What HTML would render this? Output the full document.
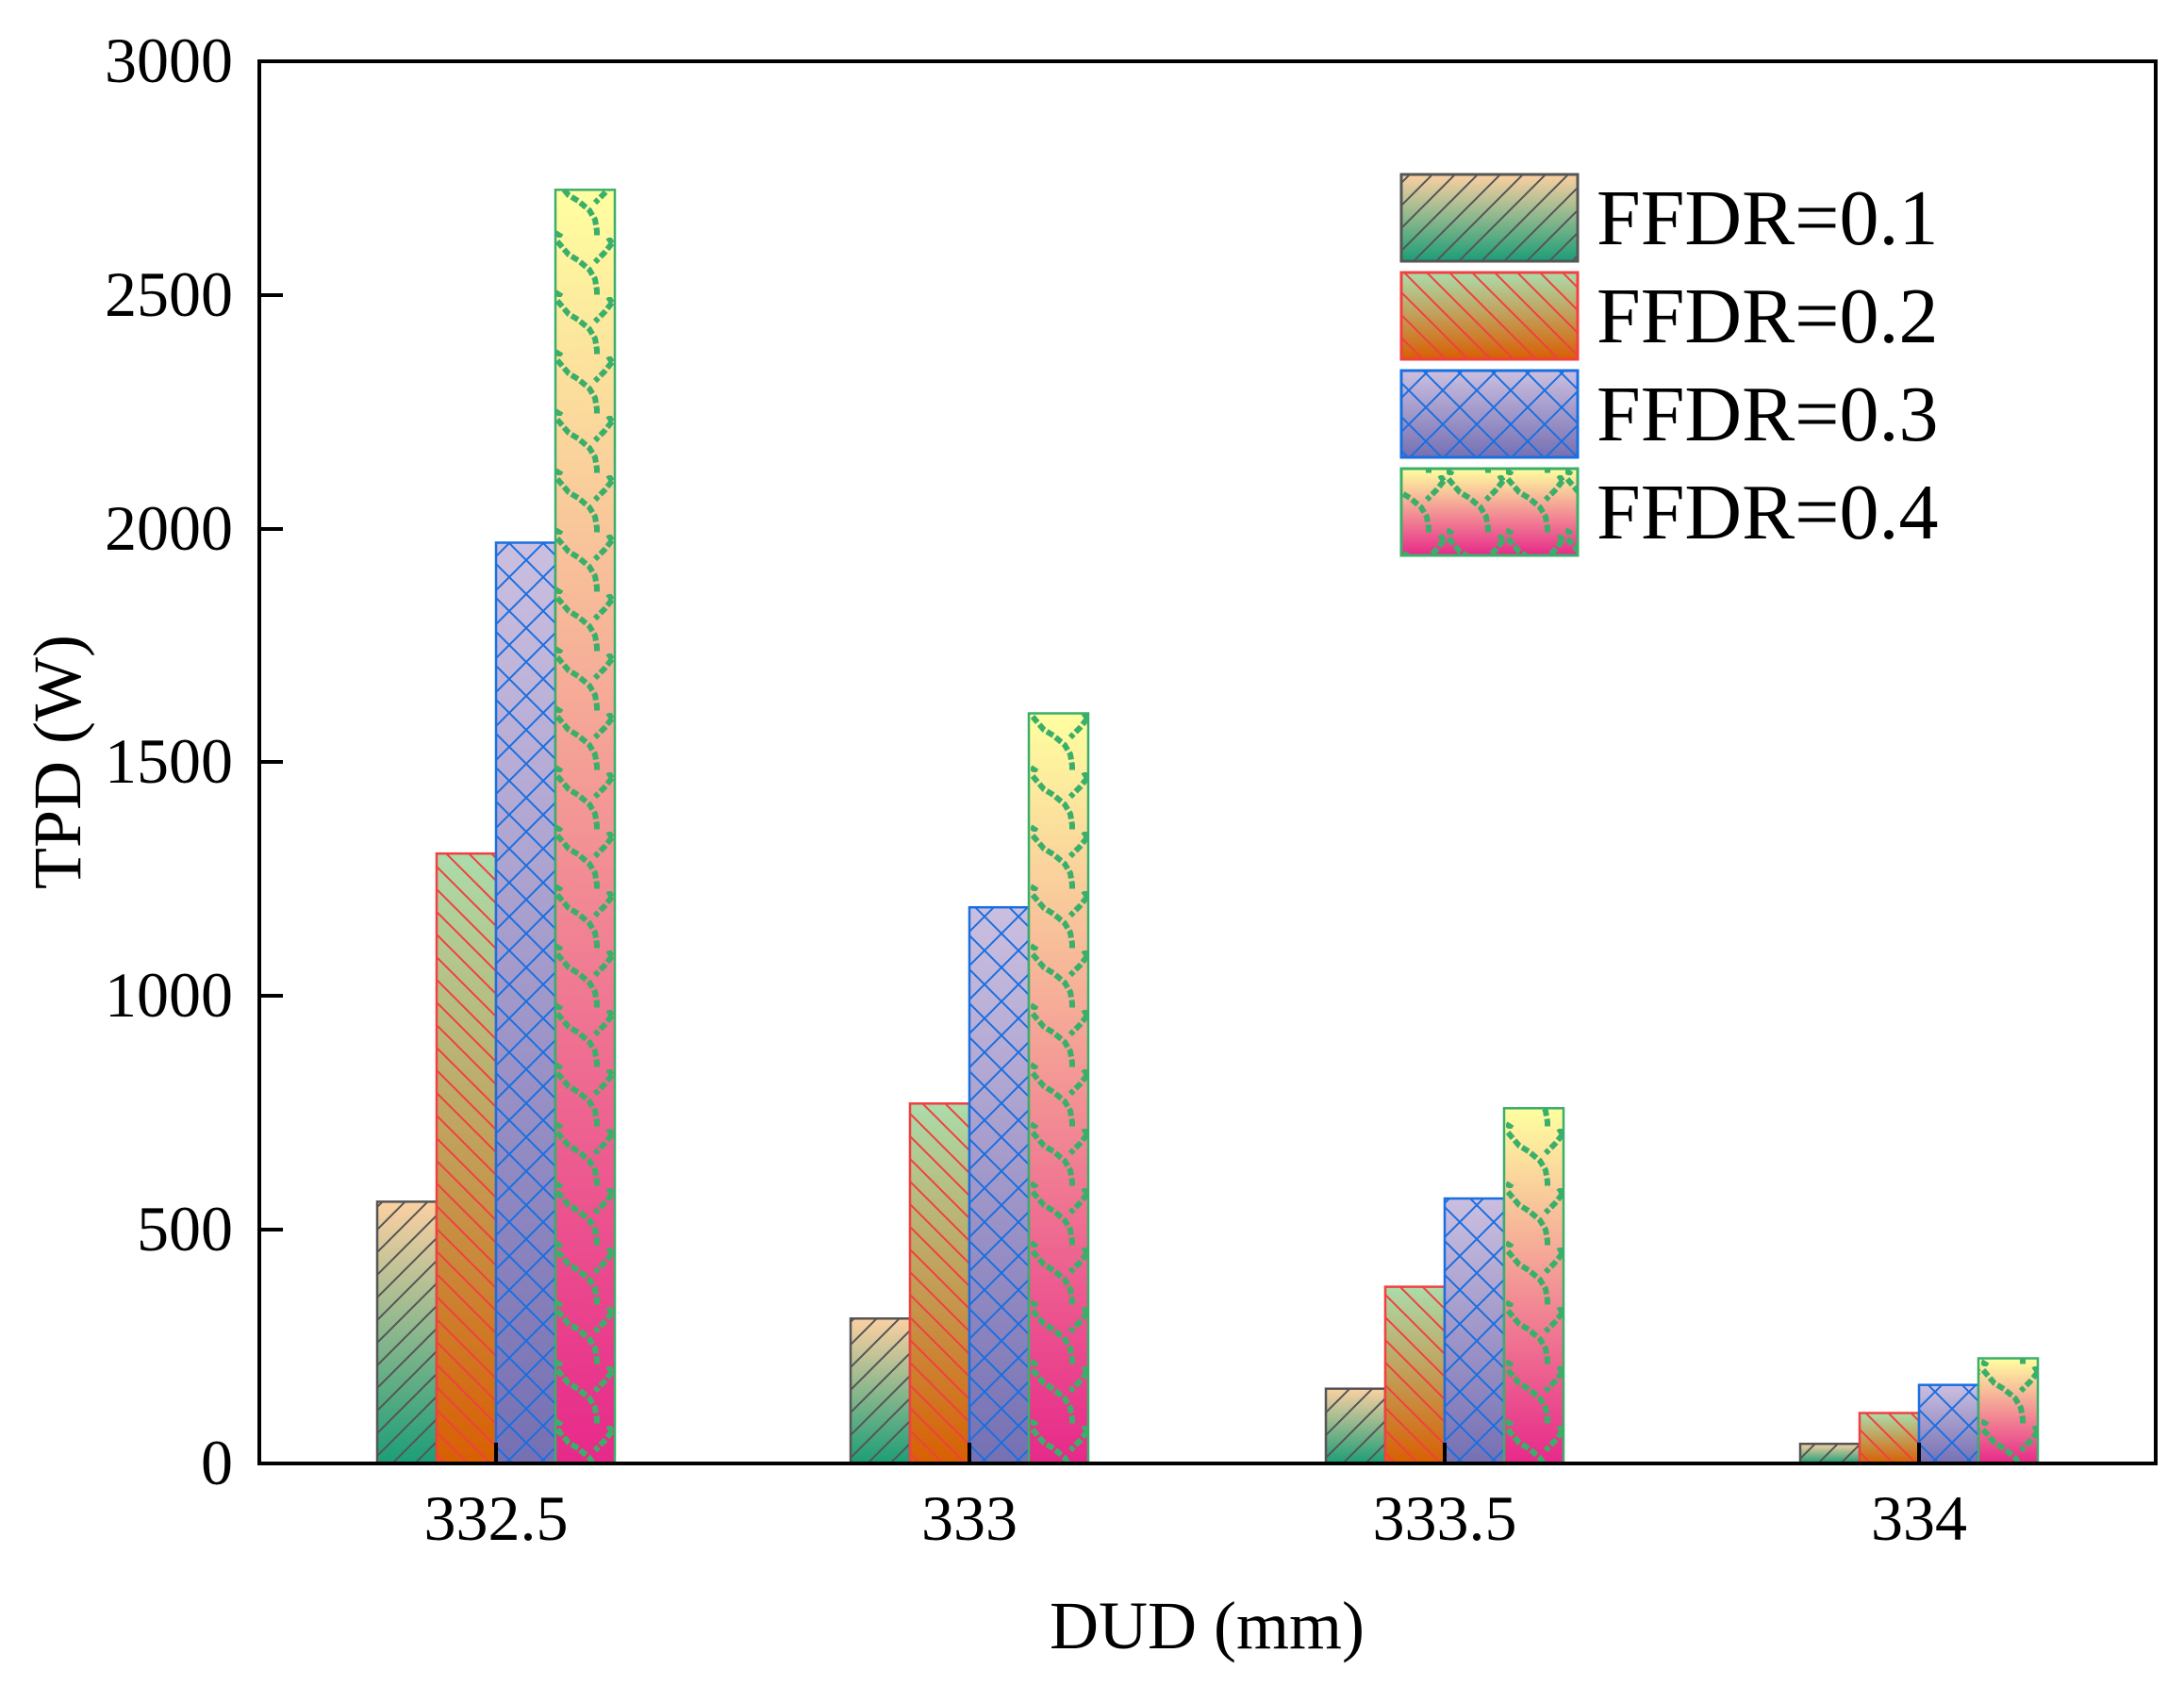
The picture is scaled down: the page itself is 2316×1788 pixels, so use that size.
<!DOCTYPE html>
<html><head><meta charset="utf-8"><style>html,body{margin:0;padding:0;background:#fff}svg{display:block}</style></head>
<body>
<svg width="2316" height="1788" viewBox="0 0 2316 1788" xmlns="http://www.w3.org/2000/svg" font-family="Liberation Serif, serif">
<defs>
<linearGradient id="g1" x1="0" y1="0" x2="0" y2="1"><stop offset="0" stop-color="#fcd0a2"/><stop offset="1" stop-color="#1b9e77"/></linearGradient>
<linearGradient id="g2" x1="0" y1="0" x2="0" y2="1"><stop offset="0" stop-color="#abdcab"/><stop offset="1" stop-color="#d95f02"/></linearGradient>
<linearGradient id="g3" x1="0" y1="0" x2="0" y2="1"><stop offset="0" stop-color="#cbbfe0"/><stop offset="1" stop-color="#7570b3"/></linearGradient>
<linearGradient id="g4" x1="0" y1="0" x2="0" y2="1"><stop offset="0" stop-color="#ffffa0"/><stop offset="1" stop-color="#e7298a"/></linearGradient>
<pattern id="p1" patternUnits="userSpaceOnUse" width="24" height="24"><path d="M-6,30 L30,-6 M-30,30 L30,-30 M-6,54 L54,-6" stroke="#555" stroke-width="2" fill="none"/></pattern>
<pattern id="p2" patternUnits="userSpaceOnUse" width="24" height="24"><path d="M-6,-6 L30,30 M-30,-6 L6,30 M18,-6 L54,30" stroke="#f04040" stroke-width="2" fill="none"/></pattern>
<pattern id="p3" patternUnits="userSpaceOnUse" width="36" height="36"><path d="M0,0 L36,36 M36,0 L0,36" stroke="#1a6fe0" stroke-width="2" fill="none"/></pattern>
<pattern id="p4" patternUnits="userSpaceOnUse" width="63" height="63" x="400"><path d="M2,4 L14,18 L24,24 L36,34 L42,44 L44,56 L44,63 M60,6 L52,16 L42,26 M0,58 L8,63 M56,0 L60,6" stroke="#3aaf6a" stroke-width="6" stroke-dasharray="8,3" fill="none"/></pattern>
</defs>
<g stroke-width="2.5">
<rect x="400" y="1274.4" width="63" height="277.6" fill="url(#g1)"/><rect x="400" y="1274.4" width="63" height="277.6" fill="url(#p1)" stroke="#555"/>
<rect x="463" y="905.2" width="63" height="646.8" fill="url(#g2)"/><rect x="463" y="905.2" width="63" height="646.8" fill="url(#p2)" stroke="#f04040"/>
<rect x="526" y="575.5" width="63" height="976.5" fill="url(#g3)"/><rect x="526" y="575.5" width="63" height="976.5" fill="url(#p3)" stroke="#1a6fe0"/>
<rect x="589" y="201.3" width="63" height="1350.7" fill="url(#g4)"/><rect x="589" y="201.3" width="63" height="1350.7" fill="url(#p4)" stroke="#3aaf6a"/>

<rect x="902" y="1398.3" width="63" height="153.7" fill="url(#g1)"/><rect x="902" y="1398.3" width="63" height="153.7" fill="url(#p1)" stroke="#555"/>
<rect x="965" y="1170.3" width="63" height="381.7" fill="url(#g2)"/><rect x="965" y="1170.3" width="63" height="381.7" fill="url(#p2)" stroke="#f04040"/>
<rect x="1028" y="962.2" width="63" height="589.8" fill="url(#g3)"/><rect x="1028" y="962.2" width="63" height="589.8" fill="url(#p3)" stroke="#1a6fe0"/>
<rect x="1091" y="756.5" width="63" height="795.5" fill="url(#g4)"/><rect x="1091" y="756.5" width="63" height="795.5" fill="url(#p4)" stroke="#3aaf6a"/>

<rect x="1406" y="1472.7" width="63" height="79.3" fill="url(#g1)"/><rect x="1406" y="1472.7" width="63" height="79.3" fill="url(#p1)" stroke="#555"/>
<rect x="1469" y="1364.6" width="63" height="187.4" fill="url(#g2)"/><rect x="1469" y="1364.6" width="63" height="187.4" fill="url(#p2)" stroke="#f04040"/>
<rect x="1532" y="1271" width="63" height="281" fill="url(#g3)"/><rect x="1532" y="1271" width="63" height="281" fill="url(#p3)" stroke="#1a6fe0"/>
<rect x="1595" y="1175.3" width="63" height="376.7" fill="url(#g4)"/><rect x="1595" y="1175.3" width="63" height="376.7" fill="url(#p4)" stroke="#3aaf6a"/>

<rect x="1909" y="1531.2" width="63" height="20.8" fill="url(#g1)"/><rect x="1909" y="1531.2" width="63" height="20.8" fill="url(#p1)" stroke="#555"/>
<rect x="1972" y="1498.5" width="63" height="53.5" fill="url(#g2)"/><rect x="1972" y="1498.5" width="63" height="53.5" fill="url(#p2)" stroke="#f04040"/>
<rect x="2035" y="1468.7" width="63" height="83.3" fill="url(#g3)"/><rect x="2035" y="1468.7" width="63" height="83.3" fill="url(#p3)" stroke="#1a6fe0"/>
<rect x="2098" y="1440.5" width="63" height="111.5" fill="url(#g4)"/><rect x="2098" y="1440.5" width="63" height="111.5" fill="url(#p4)" stroke="#3aaf6a"/>
</g>
<rect x="275" y="65" width="2011" height="1487" fill="none" stroke="#000" stroke-width="4"/>
<g stroke="#000" stroke-width="4">
<line x1="275" y1="1304" x2="300" y2="1304"/><line x1="275" y1="1056" x2="300" y2="1056"/><line x1="275" y1="808" x2="300" y2="808"/><line x1="275" y1="561" x2="300" y2="561"/><line x1="275" y1="313" x2="300" y2="313"/>
<line x1="526" y1="1552" x2="526" y2="1530"/><line x1="1028" y1="1552" x2="1028" y2="1530"/><line x1="1532" y1="1552" x2="1532" y2="1530"/><line x1="2035" y1="1552" x2="2035" y2="1530"/>
</g>
<g font-size="68" text-anchor="end">
<text x="247" y="1574">0</text><text x="247" y="1326">500</text><text x="247" y="1078">1000</text><text x="247" y="830">1500</text><text x="247" y="583">2000</text><text x="247" y="335">2500</text><text x="247" y="87">3000</text>
</g>
<g font-size="68" text-anchor="middle">
<text x="526" y="1633">332.5</text><text x="1028" y="1633">333</text><text x="1532" y="1633">333.5</text><text x="2035" y="1633">334</text>
</g>
<text x="1280" y="1748" font-size="72" text-anchor="middle">DUD (mm)</text>
<text transform="translate(85,808) rotate(-90)" font-size="72" text-anchor="middle">TPD (W)</text>
<g>
<rect x="1486" y="185" width="187" height="92" fill="url(#g1)"/><rect x="1486" y="185" width="187" height="92" fill="url(#p1)" stroke="#555" stroke-width="3"/>
<rect x="1486" y="289" width="187" height="92" fill="url(#g2)"/><rect x="1486" y="289" width="187" height="92" fill="url(#p2)" stroke="#f04040" stroke-width="3"/>
<rect x="1486" y="393" width="187" height="92" fill="url(#g3)"/><rect x="1486" y="393" width="187" height="92" fill="url(#p3)" stroke="#1a6fe0" stroke-width="3"/>
<rect x="1486" y="497" width="187" height="92" fill="url(#g4)"/><rect x="1486" y="497" width="187" height="92" fill="url(#p4)" stroke="#3aaf6a" stroke-width="3"/>
</g>
<g font-size="84">
<text x="1693" y="259">FFDR=0.1</text><text x="1693" y="363">FFDR=0.2</text><text x="1693" y="467">FFDR=0.3</text><text x="1693" y="571">FFDR=0.4</text>
</g>
</svg>
</body></html>
